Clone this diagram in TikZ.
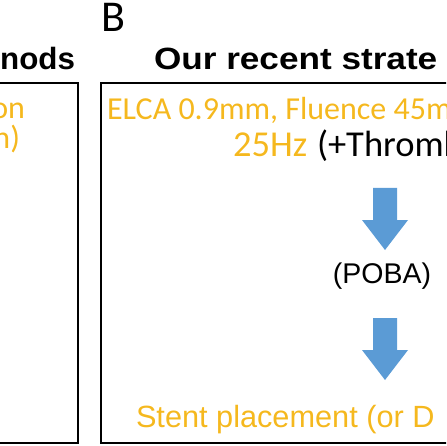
\documentclass[tikz,border=0pt]{standalone}
\usepackage{fontspec}
\setmainfont{Carlito}
\newfontfamily\arialf{Liberation Sans}
\newfontfamily\calibrif{Carlito}
\definecolor{gold}{RGB}{245,184,30}
\definecolor{arrowblue}{RGB}{91,155,213}
\begin{document}
\begin{tikzpicture}[x=1pt,y=-1pt,
  txt/.style={inner sep=0pt, outer sep=0pt},
  panel/.style={draw=black, line width=2.2pt},
  blockarrow/.style={fill=arrowblue, draw=none}]
\useasboundingbox (0,0) rectangle (446,446);
\clip (0,0) rectangle (446,446);
% panels
\draw[panel] (-10,83) rectangle (78,443);
\draw[panel] (101,83) rectangle (456,443);
% panel label
\node[txt, anchor=base west] (B) at (101,32) {\calibrif\fontsize{44}{44}\selectfont B};
% headings
\node[txt, anchor=base east] (lefthead) at (75,70) {\scalebox{1.07}[1.05]{\arialf\bfseries\fontsize{29.3}{30}\selectfont nods}};
\node[txt, anchor=base west] (righthead) at (154,70) {\scalebox{1.2}[1.05]{\arialf\bfseries\fontsize{29.3}{30}\selectfont Our recent strate}};
% left column text
\node[txt, anchor=base east, text=gold] (l1) at (25,119) {\calibrif\fontsize{32}{32}\selectfont on};
\node[txt, anchor=base east, text=gold] (l2) at (20,149) {\calibrif\fontsize{32}{32}\selectfont n)};
% right column text
\node[txt, anchor=base west, text=gold] (r1) at (107,120) {\calibrif\fontsize{32}{32}\selectfont ELCA 0.9mm, Fluence 45m};
\node[txt, anchor=base west, text=gold] (r2a) at (233,157) {\calibrif\fontsize{36.5}{37}\selectfont 25Hz};
\node[txt, anchor=base west] (r2b) at (317,157) {\calibrif\fontsize{36.5}{37}\selectfont (+Thromb};
\node[txt, anchor=base] (poba) at (382,283) {\arialf\fontsize{28.5}{29}\selectfont (POBA)};
\node[txt, anchor=base west, text=gold] (stent) at (136,427) {\arialf\fontsize{30.7}{31}\selectfont Stent placement (or D};
% block arrows
\coordinate (a1) at (385,188);
\coordinate (a2) at (385,318);
\fill[blockarrow] (a1) ++(-12,0) -- ++(24,0) -- ++(0,32) -- ++(11,0) -- ++(-23,30) -- ++(-23,-30) -- ++(11,0) -- cycle;
\fill[blockarrow] (a2) ++(-12,0) -- ++(24,0) -- ++(0,32) -- ++(11,0) -- ++(-23,30) -- ++(-23,-30) -- ++(11,0) -- cycle;
\end{tikzpicture}
\end{document}
